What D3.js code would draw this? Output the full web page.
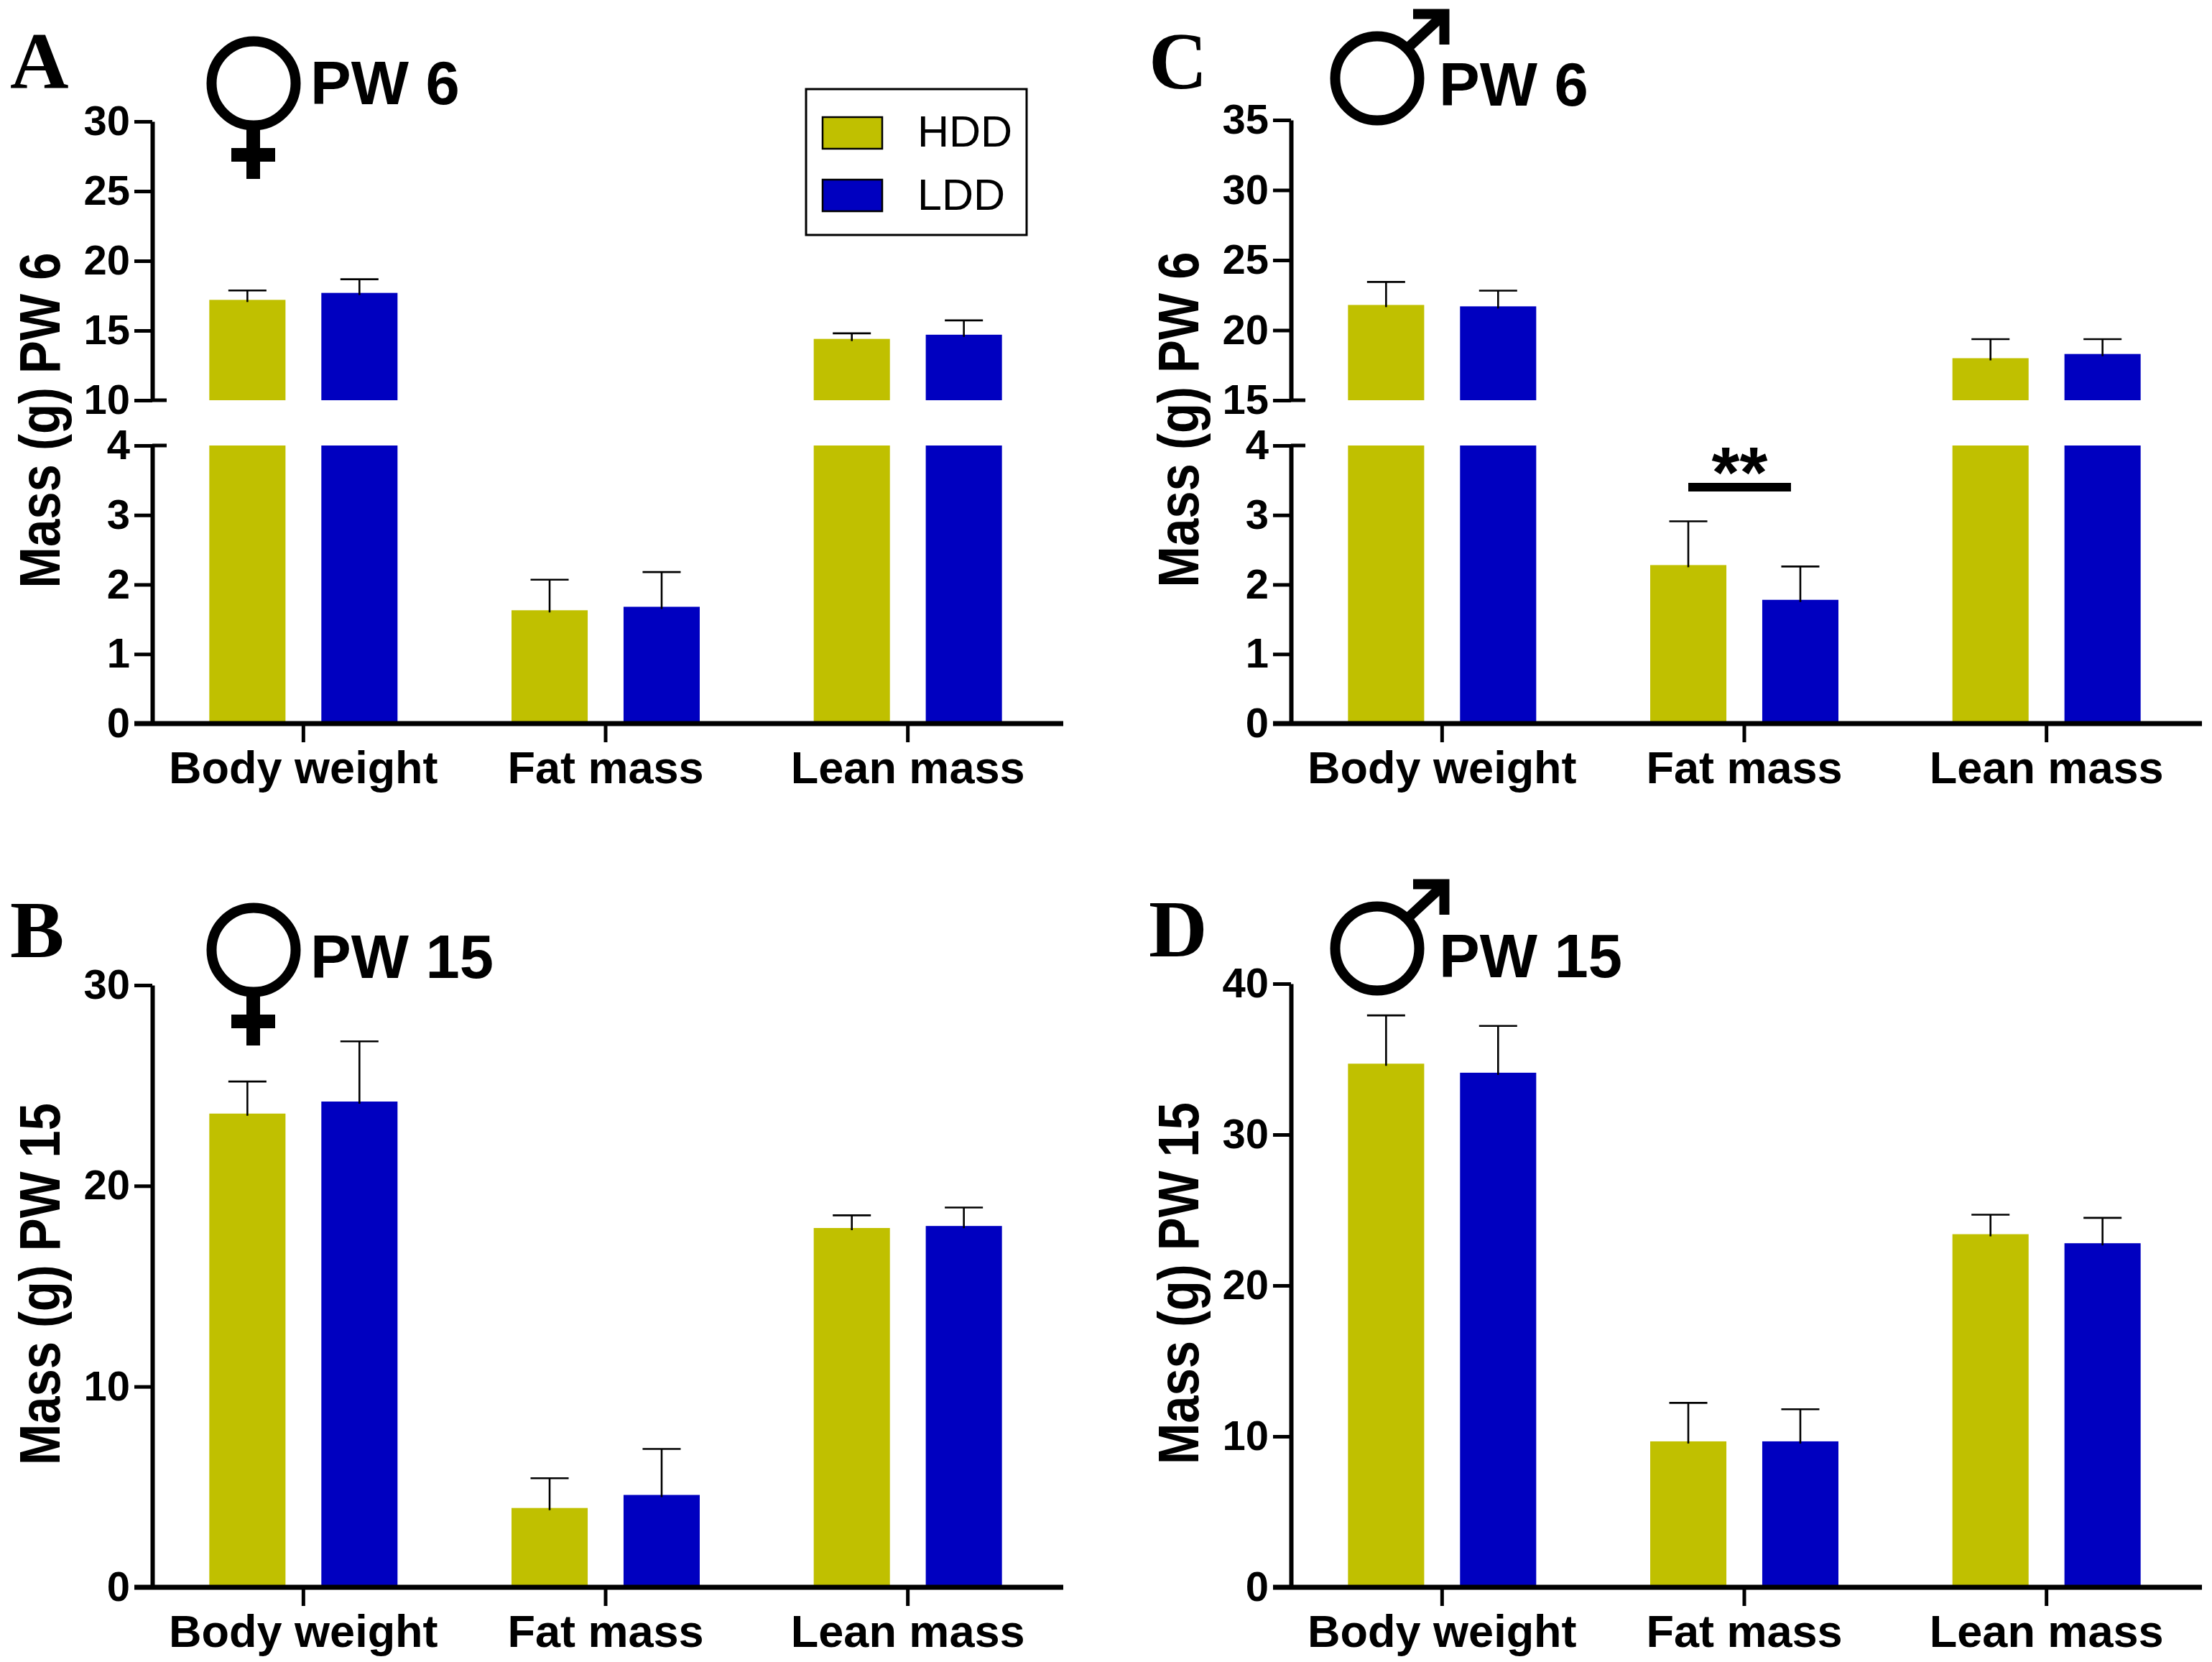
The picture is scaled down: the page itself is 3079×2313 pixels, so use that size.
<!DOCTYPE html>
<html>
<head>
<meta charset="utf-8">
<script src="https://cdn.jsdelivr.net/npm/d3@7"></script>
<style>
  body { margin: 0; background: #fff; }
  text { font-family: Arial, "Liberation Sans", sans-serif; }
</style>
</head>
<body>
<div id="chart"></div>
<script>
var categories = ['Body weight', 'Fat mass', 'Lean mass'];
var groups = ['HDD', 'LDD'];
var colors = ['#c0c000', '#0000c0'];

// A: female PW 6 (broken axis)
var hddA = [17.2, 1.63, 14.4];
var hddSemA = [0.67, 0.44, 0.40];
var lddA = [17.7, 1.68, 14.7];
var lddSemA = [0.98, 0.50, 1.03];
var lowerTicksA = [0, 1, 2, 3, 4];
var upperTicksA = [10, 15, 20, 25, 30];

// B: female PW 15
var hddB = [23.6, 3.95, 17.9];
var hddSemB = [1.6, 1.48, 0.63];
var lddB = [24.2, 4.6, 18.0];
var lddSemB = [3.0, 2.29, 0.92];
var ticksB = [0, 10, 20, 30];

// C: male PW 6 (broken axis)
var hddC = [21.8, 2.28, 18.0];
var hddSemC = [1.64, 0.63, 1.36];
var lddC = [21.7, 1.78, 18.3];
var lddSemC = [1.12, 0.48, 1.06];
var lowerTicksC = [0, 1, 2, 3, 4];
var upperTicksC = [15, 20, 25, 30, 35];
var sigC = { category: 'Fat mass', level: 3.4, label: '**' };

// D: male PW 15
var hddD = [34.7, 9.67, 23.4];
var hddSemD = [3.2, 2.55, 1.29];
var lddD = [34.1, 9.67, 22.8];
var lddSemD = [3.1, 2.13, 1.68];
var ticksD = [0, 10, 20, 30, 40];

var W = 3079, H = 2313;
var svg = d3.select('#chart').append('svg')
  .attr('width', W).attr('height', H)
  .attr('viewBox', '0 0 ' + W + ' ' + H);
svg.append('rect').attr('width', W).attr('height', H).attr('fill', '#fff');

var panels = [
  { letter: 'A', sex: 'f', title: 'PW 6', ylabel: 'Mass (g) PW 6', hdd: hddA, hddSem: hddSemA, ldd: lddA, lddSem: lddSemA,
    lower: [0, 4], lowerTicks: lowerTicksA, upper: [10, 30], upperTicks: upperTicksA,
    ax: 212, base: 1007, top: 169, letterY: 123, symY: 116, titleY: 145, legend: true, labelLen: 467 },
  { letter: 'B', sex: 'f', title: 'PW 15', ylabel: 'Mass (g) PW 15', hdd: hddB, hddSem: hddSemB, ldd: lddB, lddSem: lddSemB,
    lower: [0, 30], lowerTicks: ticksB,
    ax: 212, base: 2209, top: 1371, letterY: 1332, symY: 1322, titleY: 1361, labelLen: 504 },
  { letter: 'C', sex: 'm', title: 'PW 6', ylabel: 'Mass (g) PW 6', hdd: hddC, hddSem: hddSemC, ldd: lddC, lddSem: lddSemC,
    lower: [0, 4], lowerTicks: lowerTicksC, upper: [15, 35], upperTicks: upperTicksC, sig: sigC,
    ax: 1797, base: 1007, top: 167, letterY: 123, symY: 109, titleY: 147, labelLen: 467 },
  { letter: 'D', sex: 'm', title: 'PW 15', ylabel: 'Mass (g) PW 15', hdd: hddD, hddSem: hddSemD, ldd: lddD, lddSem: lddSemD,
    lower: [0, 40], lowerTicks: ticksD,
    ax: 1797, base: 2209, top: 1369, letterY: 1331, symY: 1320, titleY: 1360, labelLen: 504 }
];

function styleAxis(sel, fontSize) {
  sel.select('.domain').attr('stroke', '#000').attr('stroke-width', 6);
  sel.selectAll('.tick line').attr('stroke', '#000').attr('stroke-width', 5);
  sel.selectAll('.tick text').attr('fill', '#000')
    .style('font-size', fontSize + 'px').style('font-weight', 'bold');
}

function drawSymbol(g, sex, cx, cy) {
  g.append('circle').attr('cx', cx).attr('cy', cy).attr('r', 58.5)
    .attr('fill', 'none').attr('stroke', '#000').attr('stroke-width', 14);
  if (sex === 'f') {
    g.append('rect').attr('x', cx - 10).attr('y', cy + 64).attr('width', 19).attr('height', 69).attr('fill', '#000');
    g.append('rect').attr('x', cx - 31).attr('y', cy + 90).attr('width', 61).attr('height', 19).attr('fill', '#000');
  } else {
    g.append('path')
      .attr('d', 'M' + (cx + 40) + ',' + (cy - 40) + 'L' + (cx + 93.5) + ',' + (cy - 89.5))
      .attr('stroke', '#000').attr('stroke-width', 14).attr('fill', 'none');
    g.append('path')
      .attr('d', 'M' + (cx + 50) + ',' + (cy - 89.5) + 'H' + (cx + 93.5) + 'V' + (cy - 47))
      .attr('stroke', '#000').attr('stroke-width', 14).attr('fill', 'none')
      .attr('stroke-linejoin', 'miter');
  }
}

function drawPanel(p) {
  var g = svg.append('g');
  var x0 = d3.scaleBand().domain(categories).range([p.ax, p.ax + 1262]);
  var half = x0.bandwidth() / 2;
  var x1 = d3.scaleBand().domain(groups).range([half - 131, half + 131]).paddingInner(0.32);

  var segs = [];
  if (p.upper) {
    segs.push({ y: d3.scaleLinear().domain(p.lower).range([p.base, p.base - 387]), ticks: p.lowerTicks });
    segs.push({ y: d3.scaleLinear().domain(p.upper).range([p.base - 450, p.top]), ticks: p.upperTicks });
  } else {
    segs.push({ y: d3.scaleLinear().domain(p.lower).range([p.base, p.top]), ticks: p.lowerTicks });
  }

  // bars and error bars
  var series = [
    { key: 'HDD', vals: p.hdd, sem: p.hddSem, color: colors[0] },
    { key: 'LDD', vals: p.ldd, sem: p.lddSem, color: colors[1] }
  ];
  series.forEach(function (s) {
    categories.forEach(function (c, i) {
      var v = s.vals[i], e = v + s.sem[i];
      var bx = x0(c) + x1(s.key), bw = x1.bandwidth();
      segs.forEach(function (seg) {
        var d = seg.y.domain();
        if (v > d[0]) {
          var top = seg.y(Math.min(v, d[1]));
          g.append('rect').attr('x', bx).attr('y', top)
            .attr('width', bw).attr('height', seg.y(d[0]) - top)
            .attr('fill', s.color);
        }
        if (v >= d[0] && v <= d[1]) {
          var cxm = bx + bw / 2;
          g.append('line').attr('x1', cxm).attr('x2', cxm)
            .attr('y1', seg.y(v) + 3).attr('y2', seg.y(e))
            .attr('stroke', '#000').attr('stroke-width', 2.6);
          g.append('line').attr('x1', cxm - bw / 4).attr('x2', cxm + bw / 4)
            .attr('y1', seg.y(e)).attr('y2', seg.y(e))
            .attr('stroke', '#000').attr('stroke-width', 2.6);
        }
      });
    });
  });

  // y axis segments
  segs.forEach(function (seg) {
    var ga = g.append('g').attr('transform', 'translate(' + p.ax + ',0)')
      .call(d3.axisLeft(seg.y).tickValues(seg.ticks).tickFormat(d3.format('d'))
        .tickSize(25).tickSizeOuter(0).tickPadding(6));
    styleAxis(ga, 58);
  });
  if (p.upper) {
    [segs[0].y(p.lower[1]), segs[1].y(p.upper[0])].forEach(function (yy) {
      g.append('line').attr('x1', p.ax).attr('x2', p.ax + 20)
        .attr('y1', yy).attr('y2', yy).attr('stroke', '#000').attr('stroke-width', 5);
    });
  }

  // x axis
  var gx = g.append('g').attr('transform', 'translate(0,' + p.base + ')')
    .call(d3.axisBottom(x0).tickSize(26).tickSizeOuter(0).tickPadding(12));
  styleAxis(gx, 63);
  gx.select('.domain').attr('d', 'M' + (p.ax - 25) + ',0H' + (p.ax + 1268)).attr('stroke-width', 7);

  // y label
  g.append('text')
    .attr('transform', 'translate(' + (p.ax - 129) + ',' + ((p.top + p.base) / 2 - 3) + ') rotate(-90)')
    .attr('text-anchor', 'middle')
    .attr('textLength', p.labelLen).attr('lengthAdjust', 'spacingAndGlyphs')
    .style('font-size', '80px').style('font-weight', 'bold')
    .text(p.ylabel);

  // panel letter
  g.append('text').attr('x', p.ax - 198).attr('y', p.letterY)
    .style('font-family', '"Times New Roman", "Liberation Serif", serif')
    .style('font-size', '113px').style('font-weight', 'bold')
    .text(p.letter);

  // sex symbol + title
  var symX = p.sex === 'f' ? p.ax + 141 : p.ax + 120;
  drawSymbol(g, p.sex, symX, p.symY);
  g.append('text').attr('x', p.sex === 'f' ? p.ax + 220 : p.ax + 206).attr('y', p.titleY)
    .style('font-size', '85px').style('font-weight', 'bold')
    .text(p.title);

  // significance
  if (p.sig) {
    var ys = segs[0].y;
    var xa = x0(p.sig.category) + x1('HDD') + x1.bandwidth() / 2;
    var xb = x0(p.sig.category) + x1('LDD') + x1.bandwidth() / 2 - 13;
    g.append('line').attr('x1', xa).attr('x2', xb)
      .attr('y1', ys(p.sig.level)).attr('y2', ys(p.sig.level))
      .attr('stroke', '#000').attr('stroke-width', 12);
    g.append('text').attr('x', (xa + xb) / 2).attr('y', ys(p.sig.level) + 14)
      .attr('text-anchor', 'middle')
      .style('font-size', '100px').style('font-weight', 'bold')
      .text(p.sig.label);
  }

  // legend
  if (p.legend) {
    var lg = g.append('g');
    lg.append('rect').attr('x', 1122).attr('y', 124).attr('width', 307).attr('height', 203)
      .attr('fill', '#fff').attr('stroke', '#000').attr('stroke-width', 3);
    groups.forEach(function (k, j) {
      lg.append('rect').attr('x', 1145).attr('y', 163 + j * 87).attr('width', 83).attr('height', 44)
        .attr('fill', colors[j]).attr('stroke', '#000').attr('stroke-width', 2.5);
      lg.append('text').attr('x', 1277).attr('y', 204 + j * 88)
        .style('font-size', '61px').text(k);
    });
  }
}

panels.forEach(drawPanel);
</script>
</body>
</html>
